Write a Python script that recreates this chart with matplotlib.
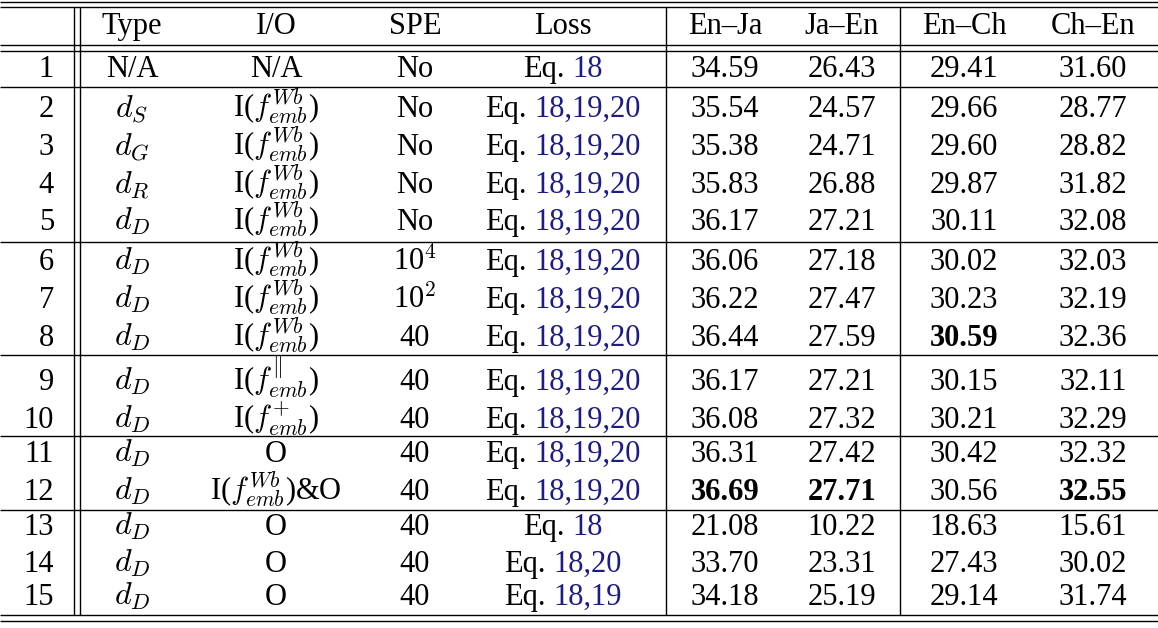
import matplotlib
matplotlib.use("Agg")
import matplotlib.pyplot as plt

plt.rcParams['font.family'] = ['Liberation Serif', 'DejaVu Serif']
plt.rcParams['mathtext.fontset'] = 'cm'

# table contents
headers = ["", "Type", "I/O", "SPE", "Loss", "En–Ja", "Ja–En", "En–Ch", "Ch–En"]
row_ids = [str(i) for i in range(1, 16)]
types = ["N/A", "$d_S$", "$d_G$", "$d_R$", "$d_D$",
         "$d_D$", "$d_D$", "$d_D$", "$d_D$", "$d_D$",
         "$d_D$", "$d_D$", "$d_D$", "$d_D$", "$d_D$"]
fwb = "I($f_{emb}^{Wb}$)"
io = ["N/A", fwb, fwb, fwb, fwb, fwb, fwb, fwb,
      r"I($f_{emb}^{\|}$)", "I($f_{emb}^{+}$)", "O", fwb + "&O", "O", "O", "O"]
spe = ["No", "No", "No", "No", "No", "10$^4$", "10$^2$", "40",
       "40", "40", "40", "40", "40", "40", "40"]
loss_eqs = ["18", "18,19,20", "18,19,20", "18,19,20", "18,19,20",
            "18,19,20", "18,19,20", "18,19,20", "18,19,20", "18,19,20",
            "18,19,20", "18,19,20", "18", "18,20", "18,19"]
en_ja = [34.59, 35.54, 35.38, 35.83, 36.17, 36.06, 36.22, 36.44,
         36.17, 36.08, 36.31, 36.69, 21.08, 33.70, 34.18]
ja_en = [26.43, 24.57, 24.71, 26.88, 27.21, 27.18, 27.47, 27.59,
         27.21, 27.32, 27.42, 27.71, 10.22, 23.31, 25.19]
en_ch = [29.41, 29.66, 29.60, 29.87, 30.11, 30.02, 30.23, 30.59,
         30.15, 30.21, 30.42, 30.56, 18.63, 27.43, 29.14]
ch_en = [31.60, 28.77, 28.82, 31.82, 32.08, 32.03, 32.19, 32.36,
         32.11, 32.29, 32.32, 32.55, 15.61, 30.02, 31.74]

# layout (pixel units)
W, H = 1158, 628
fs = 22
fs_type = 23
link_color = '#1c1c84'
col_x = [54, 132, 276, 415, 563, 725, 842, 964, 1093]
header_base = 34
row_base = [77, 117, 155, 193, 230, 270, 308, 346, 390, 428, 462, 500, 535, 572, 605]
hlines = [2, 6.5, 45, 50.5, 87, 242, 355, 436, 510, 615, 621]
vlines = [74, 80, 666, 900]
v_top, v_bot = 6.5, 615

fig = plt.figure(figsize=(W / 100, H / 100), dpi=100)
ax = fig.add_axes([0, 0, 1, 1])
ax.set_xlim(0, W)
ax.set_ylim(H, 0)
ax.axis('off')

for y in hlines:
    ax.plot([0, W], [y, y], color='black', lw=1.0, solid_capstyle='butt')
for x in vlines:
    ax.plot([x, x], [v_top, v_bot], color='black', lw=1.0, solid_capstyle='butt')

for j, h in enumerate(headers):
    ax.text(col_x[j], header_base, h, ha='center', va='baseline', fontsize=fs)

renderer = fig.canvas.get_renderer()
scores = [en_ja, ja_en, en_ch, ch_en]
for i in range(len(row_ids)):
    yb = row_base[i]
    ax.text(col_x[0], yb, row_ids[i], ha='right', va='baseline', fontsize=fs)
    ax.text(col_x[1], yb, types[i], ha='center', va='baseline',
            fontsize=fs_type if '$' in types[i] else fs)
    ax.text(col_x[2], yb, io[i], ha='center', va='baseline', fontsize=fs)
    ax.text(col_x[3], yb, spe[i], ha='center', va='baseline', fontsize=fs)

    # "Eq." in black, equation numbers in link blue, centred as one string
    probe = ax.text(0, yb, "Eq. " + loss_eqs[i], fontsize=fs, va='baseline')
    w_full = probe.get_window_extent(renderer).width
    probe.remove()
    x0 = col_x[4] - w_full / 2
    ax.text(x0, yb, "Eq.", ha='left', va='baseline', fontsize=fs)
    ax.text(x0 + w_full, yb, loss_eqs[i], ha='right', va='baseline',
            fontsize=fs, color=link_color)

    for k, col in enumerate(scores):
        v = col[i]
        weight = 'bold' if v == max(col) else 'normal'
        ax.text(col_x[5 + k], yb, f"{v:.2f}", ha='center', va='baseline',
                fontsize=fs, fontweight=weight)

fig.savefig("out.png", dpi=100)
